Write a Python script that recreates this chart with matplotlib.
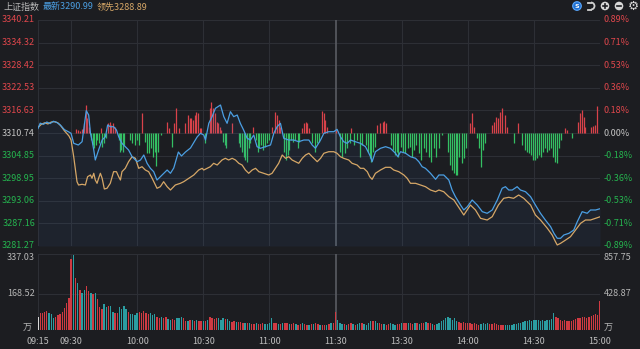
import matplotlib.pyplot as plt
from matplotlib.patches import Circle, Arc

plt.rcParams['font.family'] = ['Noto Sans CJK SC', 'DejaVu Sans']

BG = '#1c1d21'
GRID = '#2d2f35'
RED = '#e0474c'
GREEN = '#25b44f'
GRAY = '#c4c4c4'

prev_close = 3310.74
price_ticks = [3340.21, 3334.32, 3328.42, 3322.53, 3316.63, 3310.74,
               3304.85, 3298.95, 3293.06, 3287.16, 3281.27]
pct_labels = ['0.89%', '0.71%', '0.53%', '0.36%', '0.18%', '0.00%',
              '-0.18%', '-0.36%', '-0.53%', '-0.71%', '-0.89%']
# minutes from 09:30 (lunch break removed)
time_ticks = [-15, 0, 30, 60, 90, 120, 150, 180, 210, 240]
time_labels = ['09:15', '09:30', '10:00', '10:30', '11:00', '11:30',
               '13:30', '14:00', '14:30', '15:00']
vol_left = [337.03, 168.52]
vol_right = ['857.75', '428.87']

# index line (blue)
blue_t = [-15, -14, -12.5, -11, -9.5, -8, -6.5, -5, -3, -1,
          0, 1.2, 3.3, 5.0, 6.9, 8.0, 8.8, 9.5, 10.3, 11.0, 12.5, 14.1, 15.6, 16.6,
          17.8, 19.3, 20.6, 21.6, 23.1, 24.6, 26.1, 27.7, 30.0, 31.5, 33.0, 34.5,
          36.0, 37.5, 39.0, 41.3, 43.6, 45.1, 46.6, 48.7, 50.1, 51.9, 54.2, 57.2,
          58.7, 60.2, 61.0, 62.5, 64.0, 65.5, 67.8, 69.3, 70.8, 72.3, 73.8, 75.4,
          76.8, 78.3, 79.9, 81.4, 82.9, 84.4, 85.9, 88.2, 90.5, 92.0, 93.5, 95.0,
          96.5, 98.8, 101.0, 103.3, 105.6, 107.9, 109.4, 110.9, 113.2, 114.7,
          116.9, 119.2, 120.7, 122.2, 123.7, 125.3, 126.8, 129.0, 131.3, 133.6,
          135.9, 136.6, 138.1, 140.4, 142.7, 144.9, 147.2, 148.3, 149.5, 151.8,
          154.0, 156.3, 157.8, 159.3, 160.8, 163.1, 165.4, 166.9, 169.1, 171.4,
          172.9, 174.4, 176.7, 178.2, 179.8, 182.0, 184.3, 186.6, 188.8, 191.1,
          193.4, 195.6, 197.1, 198.6, 200.2, 202.4, 203.9, 206.2, 208.5, 210.7,
          213.0, 215.2, 217.6, 219.1, 220.6, 222.1, 223.6, 225.9, 228.1, 229.7,
          231.9, 234.2, 235.7, 238.0, 240]
blue_p = [3311.9, 3313.3, 3313.0, 3313.6, 3313.2, 3313.8, 3313.5, 3312.9, 3311.6, 3311.0,
          3310.66, 3308.05, 3307.61, 3308.47, 3316.56, 3315.43, 3310.66, 3308.91, 3306.31,
          3303.70, 3306.31, 3308.91, 3309.78, 3312.83, 3312.38, 3312.38, 3311.52, 3309.78,
          3308.05, 3307.17, 3306.31, 3304.56, 3303.26, 3303.70, 3305.00, 3302.84, 3301.53,
          3300.65, 3298.48, 3299.79, 3301.09, 3300.23, 3301.61, 3305.78, 3304.74, 3305.78,
          3306.83, 3309.70, 3310.66, 3310.22, 3308.91, 3313.27, 3315.00, 3317.18, 3318.04,
          3315.00, 3313.27, 3316.30, 3315.00, 3315.43, 3313.27, 3311.52, 3309.36, 3308.91,
          3310.22, 3307.17, 3306.75, 3307.17, 3307.61, 3310.66, 3312.38, 3313.27, 3309.36,
          3308.91, 3308.91, 3308.47, 3308.91, 3308.91, 3307.61, 3306.75, 3308.91, 3310.66,
          3311.08, 3311.08, 3311.70, 3309.78, 3308.47, 3308.05, 3308.91, 3308.47, 3308.05,
          3307.17, 3304.56, 3303.26, 3305.86, 3306.75, 3307.17, 3306.75, 3305.45, 3304.56,
          3305.86, 3305.45, 3304.56, 3304.14, 3303.26, 3301.95, 3301.53, 3300.23, 3298.66,
          3299.79, 3299.79, 3298.48, 3295.87, 3294.13, 3291.96, 3290.66, 3291.52, 3293.27,
          3291.96, 3290.22, 3289.80, 3290.66, 3293.27, 3296.32, 3296.74, 3295.87, 3295.87,
          3296.74, 3295.87, 3295.43, 3294.13, 3291.96, 3289.80, 3288.05, 3286.30, 3284.58,
          3283.28, 3283.28, 3284.14, 3284.58, 3285.44, 3287.61, 3290.22, 3289.80, 3290.66,
          3290.66, 3290.99]

# leading index line (orange)
orange_t = [-15, -13.5, -12, -10.5, -9, -7.5, -6, -4.5, -3, -1,
            0, 1.2, 2.0, 2.7, 3.4, 5.0, 6.5, 7.5, 8.8, 9.5, 10.3, 11.0, 11.8, 12.5,
            13.3, 14.1, 15.1, 16.3, 17.8, 19.3, 20.6, 21.6, 22.4, 23.1, 24.6, 26.1,
            27.7, 29.2, 30.7, 32.2, 33.7, 35.2, 36.8, 39.0, 40.5, 42.0, 43.6, 45.1,
            47.3, 49.6, 51.1, 53.4, 55.7, 57.9, 59.5, 60.2, 61.7, 63.2, 64.7, 66.3,
            68.5, 70.0, 71.5, 73.1, 74.6, 76.1, 77.6, 79.1, 80.6, 82.2, 83.7, 85.2,
            87.4, 89.7, 91.2, 92.7, 94.2, 95.8, 97.3, 98.8, 100.3, 101.8, 103.3,
            104.9, 106.4, 107.9, 109.4, 111.7, 113.2, 114.7, 116.9, 119.2, 120.7,
            122.2, 123.7, 126.0, 127.5, 129.8, 131.3, 132.8, 134.4, 135.5, 136.6,
            138.1, 140.4, 142.7, 144.9, 146.4, 148.7, 151.0, 152.5, 154.0, 156.3,
            158.6, 160.8, 163.1, 165.4, 166.9, 169.1, 171.4, 173.7, 176.7, 178.2,
            181.2, 183.5, 185.8, 188.8, 191.1, 193.9, 196.3, 198.6, 200.8, 203.1,
            205.4, 208.5, 210.7, 213.0, 216.1, 218.3, 219.8, 220.6, 222.1, 224.4,
            226.6, 228.9, 231.2, 233.4, 235.7, 238.0, 240]
orange_p = [3312.2, 3313.0, 3313.4, 3313.1, 3313.6, 3313.7, 3313.4, 3312.5, 3311.3, 3310.0,
            3308.91, 3304.56, 3301.09, 3298.04, 3297.18, 3297.36, 3297.18, 3299.34, 3299.79,
            3298.93, 3300.23, 3298.48, 3297.62, 3298.93, 3300.23, 3298.93, 3296.14, 3296.32,
            3297.62, 3300.65, 3300.65, 3299.34, 3298.48, 3300.65, 3301.53, 3303.26, 3304.56,
            3304.14, 3301.53, 3301.95, 3301.09, 3300.65, 3298.93, 3296.32, 3296.74, 3298.04,
            3296.74, 3295.87, 3297.18, 3297.62, 3298.04, 3298.93, 3299.79, 3301.09, 3301.53,
            3301.09, 3301.53, 3301.95, 3302.84, 3302.39, 3303.70, 3304.14, 3303.70, 3304.14,
            3303.70, 3302.84, 3302.39, 3301.09, 3300.23, 3301.09, 3301.53, 3300.65, 3300.23,
            3299.79, 3300.23, 3301.53, 3302.84, 3305.00, 3304.14, 3304.56, 3303.70, 3303.26,
            3302.84, 3304.14, 3305.00, 3305.45, 3304.56, 3303.26, 3304.14, 3305.45, 3305.86,
            3305.86, 3305.45, 3304.56, 3304.14, 3303.70, 3302.84, 3302.39, 3301.53, 3301.53,
            3300.65, 3299.34, 3298.66, 3300.23, 3301.09, 3301.79, 3301.79, 3301.09, 3300.65,
            3299.79, 3298.93, 3297.62, 3297.62, 3297.18, 3296.74, 3295.87, 3295.43, 3295.87,
            3295.43, 3294.13, 3293.27, 3290.66, 3289.35, 3291.96, 3290.66, 3288.49, 3288.05,
            3288.91, 3291.96, 3293.71, 3293.97, 3293.71, 3294.57, 3293.71, 3291.96, 3289.35,
            3288.05, 3285.89, 3284.14, 3282.39, 3281.53, 3281.97, 3282.83, 3283.69, 3285.44,
            3287.19, 3288.05, 3288.05, 3288.49, 3288.89]

# red/green strength bars, drawn from the previous close
bar_t = [2.3, 3.2, 4.2, 5.1, 5.9, 6.6, 7.3, 8.0, 9.2, 9.8, 10.6, 11.3, 11.9, 12.7,
         13.4, 14.2, 15.0, 15.7, 16.8, 17.5, 18.3, 19.1, 19.8, 21.6, 22.2, 22.8, 23.4,
         24.2, 26.9, 27.7, 28.9, 30.0, 31.0, 32.2, 33.4, 34.5, 35.4, 36.3, 37.2, 38.0,
         38.7, 39.6, 40.8, 43.6, 44.5, 45.8, 46.9, 47.8, 48.8, 51.9, 52.9, 53.8, 54.6,
         55.4, 56.1, 56.9, 57.6, 58.4, 59.1, 60.6, 62.9, 63.7, 64.5, 65.2, 66.0, 66.7,
         67.5, 68.2, 69.0, 69.7, 70.5, 72.8, 76.1, 76.8, 77.6, 78.3, 79.1, 79.9, 80.6,
         81.4, 82.6, 83.7, 84.7, 85.5, 86.2, 87.2, 88.1, 89.0, 89.9, 91.4, 92.7, 93.5,
         94.2, 95.0, 96.8, 97.6, 98.3, 99.1, 99.9, 100.6, 101.4, 102.9, 103.6, 104.9,
         105.6, 106.4, 107.2, 107.9, 109.4, 110.5, 111.4, 112.3, 114.0, 114.7, 115.4,
         116.2, 120.0, 121.9, 123.0, 124.2, 125.3, 126.5, 127.1, 128.3, 129.8, 131.0,
         132.1, 133.6, 134.7, 135.6, 136.3, 137.1, 137.8, 138.9, 140.4, 141.4, 142.2,
         143.0, 145.3, 146.2, 146.9, 147.7, 148.4, 149.5, 150.7, 151.7, 152.8, 153.7,
         154.8, 155.8, 156.7, 157.8, 158.8, 160.0, 161.1, 162.3, 163.4, 164.6, 165.8,
         166.9, 168.4, 171.0, 171.9, 173.0, 173.7, 174.5, 175.3, 176.0, 177.2, 178.3,
         179.4, 180.8, 181.8, 182.8, 184.0, 185.1, 186.2, 187.1, 188.0, 190.8, 191.9,
         192.8, 193.7, 194.6, 195.6, 196.7, 197.9, 200.9, 202.8, 204.7, 205.8, 206.7,
         207.8, 208.8, 209.7, 210.6, 211.5, 212.4, 213.3, 214.2, 215.1, 216.1, 217.0,
         217.9, 218.8, 219.7, 220.6, 221.5, 222.4, 223.9, 224.8, 227.5, 230.1, 230.8,
         231.7, 232.6, 233.4, 236.0, 236.9, 237.8, 238.7]
bar_v = [1.04, 0.78, 0.61, 0.96, 2.69, 7.30, 3.82, 1.65, -1.82, -3.13, -4.0, -3.13,
         -1.82, -2.69, 1.39, -3.56, -2.69, -1.39, 2.52, 2.78, 2.09, 2.52, 1.65, -1.82,
         -4.87, -4.43, -4.87, -3.13, -1.82, -2.69, -3.13, -1.82, -3.13, 5.13, -2.26,
         -5.30, -5.30, -4.0, -6.17, -4.87, -8.60, -4.87, -0.52, 2.95, 1.22, -3.56, 2.69,
         6.43, 1.22, 2.52, 4.69, 3.82, 3.82, 3.39, 4.69, 5.56, 5.13, 1.22, 1.22, -2.69,
         6.43, 8.17, 6.43, 5.13, 2.95, 2.52, 1.65, 0.78, -2.26, -3.13, -4.0, 2.52, -2.69,
         -3.56, -4.87, -6.17, -7.04, -7.47, -4.0, -2.69, 1.65, -1.82, -4.87, -4.0, -3.13,
         -4.43, -3.56, -2.69, -1.82, 1.65, 5.56, 4.69, 3.39, 1.65, -4.87, -7.04, -5.74,
         -4.43, -1.82, -2.26, -1.82, -4.0, -2.26, 1.22, 2.52, 2.95, 2.52, 1.22, -2.69,
         -4.87, -2.69, -2.26, 5.82, 5.13, 3.39, 1.65, 0.78, -4.87, -6.17, -5.30, -4.0,
         -2.69, 1.22, -3.13, -1.82, -6.17, -3.13, -3.13, -4.87, -6.60, -7.47, -4.87,
         -3.56, 2.09, 2.52, 2.95, 3.22, 2.52, -3.13, -4.43, -5.74, -4.87, -6.17, -3.56,
         -4.87, -5.30, -4.0, -3.56, -6.17, -4.43, -3.13, -5.30, -7.04, -4.0, -4.87, -6.17,
         -7.47, -4.0, -6.17, -4.0, -0.52, -4.87, -8.34, -9.65, -10.5, -10.95, -10.95,
         -6.17, -7.91, -6.60, -4.0, 2.52, 5.13, 1.65, -1.39, -4.0, -8.78, -4.43, -2.69,
         2.09, 2.95, 4.26, 3.82, 5.56, 6.43, 4.69, 1.65, -2.69, 2.52, -3.13, -4.43, -4.87,
         -5.30, -5.74, -7.04, -7.04, -6.60, -5.74, -6.17, -4.87, -4.0, -4.87, -4.43, -4.0,
         -6.17, -7.47, -7.91, -4.0, -1.82, 1.22, 0.78, -1.39, 2.95, 5.13, 6.0, 4.26, 1.65,
         1.65, 1.82, 2.09, 7.04]

# volume per minute, 09:15 .. 15:00
vol = [62, 80, 80, 85, 88, 77, 73, 54, 62, 70, 74, 85, 100, 124, 150,
       328, 345, 240, 216, 185, 170, 185, 204, 178, 170,
       167, 170, 142, 105, 96, 120, 105, 111, 111, 85,
       80, 77, 105, 96, 111, 96, 85, 74, 74, 70,
       77, 85, 77, 88, 80, 74, 77, 70, 74, 62,
       54, 62, 54, 59, 49, 46, 49, 46, 54, 54,
       62, 54, 43, 43, 46, 48, 43, 46, 40, 43,
       42, 40, 45, 62, 55, 52, 57, 54, 46, 54,
       51, 49, 40, 37, 43, 39, 39, 37, 34, 34,
       34, 31, 28, 28, 31, 28, 28, 31, 28, 28,
       31, 57, 34, 31, 28, 28, 31, 34, 31, 28,
       28, 31, 28, 25, 28, 31, 28, 25, 25, 28,
       28, 31, 28, 25, 22, 22, 25, 28, 31, 34,
       85, 46, 31, 28, 28, 25, 28, 31, 28, 25,
       28, 31, 34, 28, 25, 31, 40, 43, 40, 34,
       31, 28, 28, 25, 28, 31, 28, 25, 28, 28,
       31, 34, 31, 34, 31, 28, 34, 31, 28, 31,
       34, 37, 31, 34, 28, 25, 28, 31, 40, 46,
       54, 62, 55, 46, 54, 43, 37, 34, 37, 31,
       34, 31, 28, 31, 28, 25, 28, 31, 28, 31,
       28, 28, 31, 28, 25, 22, 25, 22, 22, 25,
       25, 28, 28, 31, 34, 37, 40, 43, 46, 43,
       46, 46, 46, 43, 46, 43, 46, 46, 49, 77,
       62, 54, 46, 43, 46, 43, 40, 43, 46, 49,
       54, 57, 62, 59, 54, 62, 65, 68, 74, 68,
       134]
vol_dir = ("wrrrrgggrrrrrrr"
           "rgrgrggrrg" "rgrrrggrgg" "rrggggrggg" "grrrrrgggr" "rgrrggrrgg"
           "grrgrgrgrr" "grgrrrrggg" "rggrrgrrrg" "rgrrgrrrgg" "ggrrgrgrrg"
           "rrgrrgrrgr" "grrgrrgrgr" "rgggrgrrgr" "ggrggggrgg" "rrgrrgggrr"
           "grrgrrgrgr" "rgrrgrgggg" "ggggggrrrr" "rrrrrrgggg" "rrrrrrrggg"
           "gggggggggg" "gggggggggg" "rrrrrrrrrr" "rrrrrrrrrr" "r")
vol_t = list(range(-15, 241))

fig = plt.figure(figsize=(6.4, 3.49), dpi=100, facecolor=BG)

# ---- main price panel
ax = fig.add_axes([38 / 640, 103 / 349, 562 / 640, 226 / 349], facecolor=BG)
ax.set_xlim(-15, 240)
ax.set_ylim(price_ticks[-1], price_ticks[0])
for p in price_ticks:
    ax.axhline(p, color=GRID, lw=0.8, zorder=0)
for t in time_ticks:
    if t == 120:
        ax.axvline(t, color='#5a5c62', lw=1.2, zorder=0)
    else:
        ax.axvline(t, color=GRID, lw=0.8, zorder=0)

bar_colors = ['#d9424a' if v > 0 else '#34c063' for v in bar_v]
ax.vlines(bar_t, prev_close, [prev_close + v for v in bar_v], colors=bar_colors,
          lw=0.9, zorder=1)
ax.fill_between(blue_t, blue_p, price_ticks[-1], color='#3d7fd0', alpha=0.07,
                lw=0, zorder=1)
ax.plot(orange_t, orange_p, color='#d6a767', lw=0.9, zorder=3)
ax.plot(blue_t, blue_p, color='#4b9fe3', lw=0.9, zorder=4)

ytr = ax.get_yaxis_transform()
for p, lab in zip(price_ticks, pct_labels):
    if p > prev_close + 0.01:
        c = RED
    elif p < prev_close - 0.01:
        c = GREEN
    else:
        c = GRAY
    ax.text(-3 / 562, p, f'{p:.2f}', transform=ytr, ha='right', va='center',
            color=c, fontsize=6.5)
    ax.text(1 + 4 / 562, p, lab, transform=ytr, ha='left', va='center',
            color=c, fontsize=6.5)
ax.set_xticks([])
ax.set_yticks([])
for s in ax.spines.values():
    s.set_visible(False)

# ---- volume panel
axv = fig.add_axes([38 / 640, 19 / 349, 562 / 640, 76 / 349], facecolor=BG)
axv.set_xlim(-15, 240)
axv.set_ylim(0, 351)
axv.axhline(351, color=GRID, lw=0.8, zorder=0)
axv.axhline(vol_left[1], color=GRID, lw=0.8, zorder=0)
for t in time_ticks:
    if t == 120:
        axv.axvline(t, color='#5a5c62', lw=1.2, zorder=0)
    else:
        axv.axvline(t, color=GRID, lw=0.8, zorder=0)
cmap = {'r': '#cf3a42', 'g': '#2b9da1', 'w': '#d8d8d8'}
axv.bar(vol_t, vol, width=0.62, color=[cmap[d] for d in vol_dir], lw=0, zorder=2)

vtr = axv.get_yaxis_transform()
for v, lab in zip(vol_left, vol_right):
    axv.text(-3 / 562, v, f'{v:.2f}', transform=vtr, ha='right', va='center',
             color='#b5b5b5', fontsize=6.5)
    axv.text(1 + 4 / 562, v, lab, transform=vtr, ha='left', va='center',
             color='#b5b5b5', fontsize=6.5)
axv.text(-6 / 562, 8, '万', transform=vtr, ha='right', va='center',
         color='#b5b5b5', fontsize=6.5)
axv.text(1 + 4 / 562, 8, '万', transform=vtr, ha='left', va='center',
         color='#b5b5b5', fontsize=6.5)
xtr = axv.get_xaxis_transform()
for t, lab in zip(time_ticks, time_labels):
    axv.text(t, -11 / 76, lab, transform=xtr, ha='center', va='center',
             color='#bdbdbd', fontsize=6.5)
axv.set_xticks([])
axv.set_yticks([])
for s in axv.spines.values():
    s.set_visible(False)

# ---- header
hy = 1 - 7 / 349
fig.text(3 / 640, hy, '上证指数', color='#b8b8b8', fontsize=6.5, va='center')
fig.text(43 / 640, hy, '最新3290.99', color='#4b9fe3', fontsize=6.5, va='center')
fig.text(97 / 640, hy, '领先3288.89', color='#d6a767', fontsize=6.5, va='center')

# toolbar icons (top right)
ov = fig.add_axes([0, 0, 1, 1], facecolor='none')
ov.set_xlim(0, 640)
ov.set_ylim(349, 0)
ov.axis('off')
ov.add_patch(Circle((577, 6), 4.3, fc='#1e6fd0', ec='#5aa8ff', lw=0.8))
ov.text(577, 6.3, 'S', color='white', fontsize=4.5, ha='center', va='center',
        family='DejaVu Sans', weight='bold')
ov.add_patch(Arc((591, 6), 7, 7, theta1=-90, theta2=90, color='#d0d0d0', lw=1.3))
ov.plot([588, 591], [2.5, 2.5], color='#d0d0d0', lw=1.3)
ov.plot([588, 591], [9.5, 9.5], color='#d0d0d0', lw=1.3)
for cx, sym in [(605, '+'), (619, '-')]:
    ov.add_patch(Circle((cx, 6), 4.3, fc='#d8d8d8', ec='none'))
    ov.plot([cx - 2.3, cx + 2.3], [6, 6], color=BG, lw=1.2)
    if sym == '+':
        ov.plot([cx, cx], [3.7, 8.3], color=BG, lw=1.2)
ov.text(633, 6.3, '⚙', color='#d8d8d8', fontsize=9, ha='center', va='center',
        family='DejaVu Sans')

fig.savefig('out.png', dpi=100, facecolor=BG)
